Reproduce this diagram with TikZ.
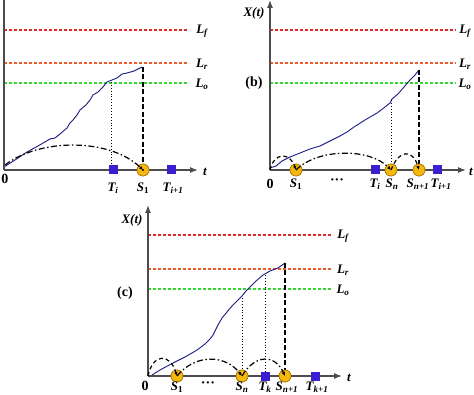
\documentclass[tikz,border=0pt]{standalone}
\usepackage{fontspec}
\setmainfont{Liberation Serif}
\usetikzlibrary{arrows.meta}
\definecolor{sqblue}{HTML}{3A1ED0}
\definecolor{cfill}{HTML}{F5B80C}
\definecolor{cedge}{HTML}{A87400}
\definecolor{navyc}{HTML}{1C1C86}
\definecolor{lfcol}{HTML}{E02828}
\definecolor{lrcol}{HTML}{F05A28}
\definecolor{locol}{HTML}{30D830}
\newcommand\mysb[1]{\textsubscript{#1}}
\begin{document}
\begin{tikzpicture}[x=1pt,y=-1pt,
  axisline/.style={draw=black!70, line width=1.3pt},
  axisarrow/.style={axisline, -{Latex[length=8pt,width=6pt]}},
  lfline/.style={draw=lfcol, line width=1.1pt, dash pattern=on 3pt off 2pt},
  lrline/.style={draw=lrcol, line width=1.1pt, dash pattern=on 3pt off 2pt},
  loline/.style={draw=locol, line width=1.1pt, dash pattern=on 3pt off 2pt},
  xcurve/.style={draw=navyc, line width=0.9pt, line join=round},
  dropdot/.style={draw=black, line width=0.9pt, dotted},
  dropdash/.style={draw=black, line width=1.4pt, dash pattern=on 5pt off 2.5pt},
  arcdd/.style={draw=black, line width=1.2pt, dash pattern=on 6pt off 2.5pt on 1.5pt off 2.5pt, -{Latex[length=4pt,width=3.5pt]}},
  arcd/.style={draw=black, line width=1.2pt, dash pattern=on 4pt off 3pt, -{Latex[length=4pt,width=3.5pt]}},
  sqnode/.style={rectangle, fill=sqblue, minimum size=9pt, inner sep=0pt},
  cnode/.style={circle, fill=cfill, draw=cedge, line width=0.6pt, minimum size=12pt, inner sep=0pt},
  lab/.style={font=\fontsize{13}{15}\selectfont\bfseries\itshape, inner sep=1pt},
  panlab/.style={font=\fontsize{14}{16}\selectfont\bfseries, inner sep=1pt}
]
\useasboundingbox (0,0) rectangle (474,395);

% ================= Panel (a) =================
\coordinate (oa) at (4,170);
\coordinate (xa) at (198,170);
\coordinate (ya) at (4,-2);
\coordinate (lfa1) at (4,30);  \coordinate (lfa2) at (188,30);
\coordinate (lra1) at (4,63);  \coordinate (lra2) at (188,63);
\coordinate (loa1) at (4,83);  \coordinate (loa2) at (188,83);
\draw[lfline] (lfa1) -- (lfa2);
\draw[lrline] (lra1) -- (lra2);
\draw[loline] (loa1) -- (loa2);
\node[lab] (lfa) at (202,31) {L\mysb{f}};
\node[lab] (lra) at (202,64) {L\mysb{r}};
\node[lab] (loa) at (202,84) {L\mysb{o}};
\draw[xcurve] (4,167) -- (15,160) -- (27,152) -- (38,146) -- (50,139) -- (55,138) -- (60,134) -- (67,128) -- (70,123) -- (73,120) -- (77,115) -- (80,110) -- (86,105) -- (90,100) -- (93,95) -- (98,92) -- (103,87) -- (107,82) -- (112,80) -- (117,78) -- (122,74) -- (127,73) -- (134,71) -- (142,67);
\node[sqnode] (Tia) at (113,170) {};
\node[cnode] (S1a) at (143,170) {};
\node[sqnode] (Ti1a) at (171,170) {};
\coordinate (da1) at (111,82);
\coordinate (da2) at (143,67);
\draw[dropdot] (da1) -- (Tia.north -| da1);
\draw[dropdash] (da2) -- (S1a.north);
\draw[axisline] (oa) -- (ya);
\draw[axisarrow] (oa) -- (xa);
\node[sqnode] at (Tia) {};
\node[cnode] at (S1a) {};
\node[sqnode] at (Ti1a) {};
\coordinate (arca0) at (5,165);
\draw[arcdd] (arca0) .. controls (40,138) and (110,138) .. (S1a.center);
\fill (S1a) circle (1.2pt);
\node[lab] (ta) at (205,172) {t};
\node[panlab] (za) at (5,179) {0};
\node[lab] (lTia) at (113,188) {T\mysb{i}};
\node[lab] (lS1a) at (143,188) {S\mysb{\upshape 1}};
\node[lab] (lTi1a) at (173,188) {T\mysb{i+1}};

% ================= Panel (b) =================
\coordinate (ob) at (270,170);
\coordinate (xb) at (466,170);
\coordinate (yb) at (270,0);
\coordinate (lfb1) at (270,30);  \coordinate (lfb2) at (456,30);
\coordinate (lrb1) at (270,63);  \coordinate (lrb2) at (456,63);
\coordinate (lob1) at (270,83);  \coordinate (lob2) at (456,83);
\draw[lfline] (lfb1) -- (lfb2);
\draw[lrline] (lrb1) -- (lrb2);
\draw[loline] (lob1) -- (lob2);
\node[lab] (lfb) at (465,31) {L\mysb{f}};
\node[lab] (lrb) at (465,64) {L\mysb{r}};
\node[lab] (lob) at (465,84) {L\mysb{o}};
\node[lab] (Xb) at (254,13) {X(t)};
\node[panlab] (pb) at (254,83) {(b)};
\draw[xcurve] (270,168) -- (276,166) -- (282,161) -- (290,157) -- (300,153) -- (310,149) -- (320,146) -- (330,141) -- (340,136) -- (347,132) -- (354,127) -- (365,120) -- (377,113) -- (385,107) -- (390,103) -- (392,99) -- (398,94) -- (404,87) -- (410,80) -- (415,75) -- (419,70);
\node[cnode] (S1b) at (296,170) {};
\node[sqnode] (Tib) at (375,170) {};
\node[cnode] (Snb) at (391,170) {};
\node[cnode] (Sn1b) at (419,170) {};
\node[sqnode] (Ti1b) at (437,170) {};
\coordinate (db1) at (391,100);
\coordinate (db2) at (419,70);
\draw[dropdot] (db1) -- (Snb.north);
\draw[dropdash] (db2) -- (Sn1b.north);
\draw[axisarrow] (ob) -- (yb);
\draw[axisarrow] (ob) -- (xb);
\node[cnode] at (S1b) {};
\node[sqnode] at (Tib) {};
\node[cnode] at (Snb) {};
\node[cnode] at (Sn1b) {};
\node[sqnode] at (Ti1b) {};
\draw[arcd] (ob) .. controls (274,152) and (290,152) .. (S1b.center);
\draw[arcdd] (S1b.center) .. controls (318,148) and (370,148) .. (Snb.center);
\draw[arcd] (Snb.center) .. controls (399,149) and (413,149) .. (Sn1b.center);
\node[lab] (tb) at (471,172) {t};
\node[panlab] (zb) at (270,184) {0};
\node[lab] (lS1b) at (296,184) {S\mysb{\upshape 1}};
\node[panlab] (dotsb) at (337,182) {···};
\node[lab] (lTib) at (375,184) {T\mysb{i}};
\node[lab] (lSnb) at (392,184) {S\mysb{n}};
\node[lab] (lSn1b) at (418,184) {S\mysb{n+1}};
\node[lab] (lTi1b) at (441,184) {T\mysb{i+1}};

% ================= Panel (c) =================
\coordinate (oc) at (148,376);
\coordinate (xc) at (342,376);
\coordinate (yc) at (148,205);
\coordinate (lfc1) at (148,235);  \coordinate (lfc2) at (332,235);
\coordinate (lrc1) at (148,269);  \coordinate (lrc2) at (332,269);
\coordinate (loc1) at (148,289);  \coordinate (loc2) at (332,289);
\draw[lfline] (lfc1) -- (lfc2);
\draw[lrline] (lrc1) -- (lrc2);
\draw[loline] (loc1) -- (loc2);
\node[lab] (lfcl) at (343,236) {L\mysb{f}};
\node[lab] (lrcl) at (343,270) {L\mysb{r}};
\node[lab] (locl) at (343,290) {L\mysb{o}};
\node[lab] (Xc) at (132,220) {X(t)};
\node[panlab] (pc) at (125,293) {(c)};
\draw[xcurve] (149,377) -- (160,370) -- (173,363) -- (185,357) -- (192,353) -- (197,350) -- (205,344) -- (210,339) -- (213,335) -- (218,325) -- (222,318) -- (227,312) -- (232,306) -- (237,301) -- (242,296) -- (246,291) -- (250,287) -- (256,281) -- (263,275) -- (270,271) -- (278,268) -- (285,263);
\node[cnode] (S1c) at (177,376) {};
\node[cnode] (Snc) at (242,376) {};
\node[sqnode] (Tkc) at (265,376) {};
\node[cnode] (Sn1c) at (285,376) {};
\node[sqnode] (Tk1c) at (315,376) {};
\coordinate (dc1) at (242,298);
\coordinate (dc2) at (265,275);
\coordinate (dc3) at (285,263);
\draw[dropdot] (dc1) -- (Snc.north);
\draw[dropdot] (dc2) -- (Tkc.north);
\draw[dropdash] (dc3) -- (Sn1c.north);
\draw[axisarrow] (oc) -- (yc);
\draw[axisarrow] (oc) -- (xc);
\node[cnode] at (S1c) {};
\node[cnode] at (Snc) {};
\node[sqnode] at (Tkc) {};
\node[cnode] at (Sn1c) {};
\node[sqnode] at (Tk1c) {};
\draw[arcd] (oc) .. controls (153,353) and (170,353) .. (S1c.center);
\draw[arcdd] (S1c.center) .. controls (195,354) and (225,354) .. (Snc.center);
\draw[arcdd] (Snc.center) .. controls (255,354) and (275,354) .. (Sn1c.center);
\node[lab] (tc) at (349,378) {t};
\node[panlab] (zc) at (145,386) {0};
\node[lab] (lS1c) at (177,387) {S\mysb{\upshape 1}};
\node[panlab] (dotsc) at (208,385) {···};
\node[lab] (lSnc) at (242,387) {S\mysb{n}};
\node[lab] (lTkc) at (265,387) {T\mysb{k}};
\node[lab] (lSn1c) at (287,387) {S\mysb{n+1}};
\node[lab] (lTk1c) at (317,387) {T\mysb{k+1}};
\end{tikzpicture}
\end{document}
